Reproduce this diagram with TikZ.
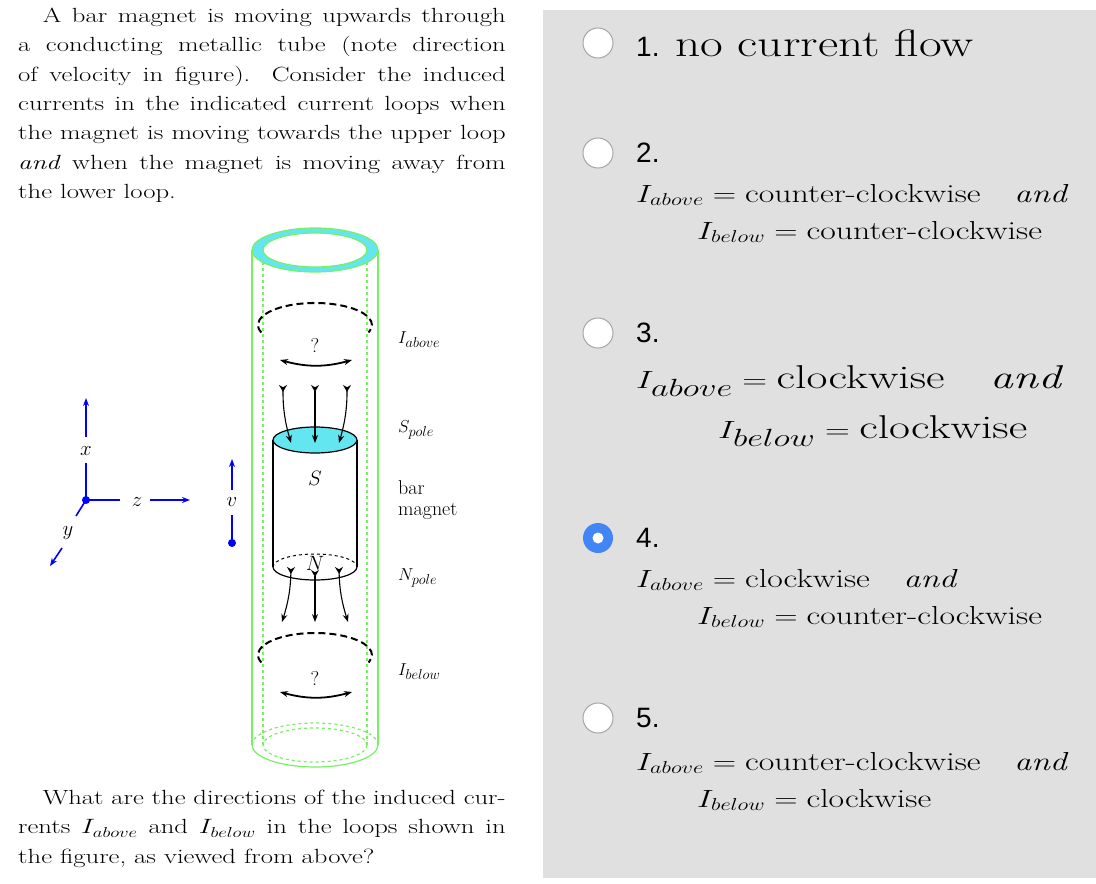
\documentclass[tikz,border=0pt]{standalone}
\usepackage{fontspec}
\newfontfamily\sfn{Liberation Sans}
\usetikzlibrary{arrows.meta}
\definecolor{panel}{RGB}{224,224,224}
\definecolor{tubeg}{RGB}{120,240,100}
\definecolor{cyanm}{RGB}{100,230,240}
\definecolor{radio}{RGB}{66,133,244}
\newcommand{\hs}[1]{\scalebox{1.3}[1]{#1}}
\newcommand{\hb}[1]{\scalebox{1.38}[1]{#1}}
\begin{document}
\begin{tikzpicture}[x=1pt,y=-1pt,
  txt/.style={inner sep=0,anchor=north west},
  lbl/.style={inner sep=0,anchor=west,font=\fontsize{19}{20}\selectfont},
  ax/.style={blue,line width=1.6pt,-{Stealth[length=8pt,width=6pt]}},
  tube/.style={tubeg,line width=1.2pt},
  loopd/.style={line width=2pt,dash pattern=on 7pt off 4pt},
  fld/.style={line width=1.1pt,{Stealth[reversed,length=7pt,width=8pt]}-{Stealth[length=8pt,width=6pt]}},
  opt/.style={inner sep=0,anchor=west,font=\sfn\fontsize{28}{30}\selectfont},
  mth/.style={inner sep=0,font=\fontsize{26}{28}\selectfont},
  mthb/.style={inner sep=0,font=\fontsize{33}{35}\selectfont},
  sym/.style={inner sep=0,font=\fontsize{20}{22}\selectfont},
  rad/.style={draw=gray!70,fill=white,line width=1pt}]
\useasboundingbox (0,0) rectangle (1096,884);
\fill[white] (0,0) rectangle (1096,884);
% left text
\node[txt] (t1) at (18,8) {\scalebox{1.3}[1]{\parbox[t]{375pt}{\fontsize{20.5}{29.3}\selectfont\hspace*{19pt}A bar magnet is moving upwards through\linebreak a conducting metallic tube (note direction\linebreak of velocity in figure). Consider the induced currents in the indicated current loops when the magnet is moving towards the upper loop \emph{and} when the magnet is moving away from the lower loop.}}};
\node[txt] (t2) at (18,790) {\scalebox{1.3}[1]{\parbox[t]{375pt}{\fontsize{20.5}{29.3}\selectfont\hspace*{19pt}What are the directions of the induced currents $I_{above}$ and $I_{below}$ in the loops shown in the figure, as viewed from above?}}};
% tube
\draw[tube] (252,250) -- (252,745) (378,250) -- (378,745);
\draw[tube,dashed] (263,250) -- (263,745) (367,250) -- (367,745);
\fill[cyanm,even odd rule] (315,250) ellipse[x radius=63,y radius=22] (315,250) ellipse[x radius=52,y radius=17];
\draw[tube] (315,250) ellipse[x radius=63,y radius=22] (315,250) ellipse[x radius=52,y radius=17];
\draw[tube] (378,745) arc[start angle=0,end angle=180,x radius=63,y radius=22];
\draw[tube,dashed] (252,745) arc[start angle=180,end angle=360,x radius=63,y radius=22];
\draw[tube,dashed] (315,745) ellipse[x radius=52,y radius=17];
% loops
\draw[loopd] (261.4,332.5) arc[start angle=160,end angle=380,x radius=57,y radius=22];
\node[sym] (q1) at (315,345) {?};
\draw[line width=1.8pt,{Stealth[length=8pt]}-{Stealth[length=8pt]}] (280,360) to[bend right=15] (352,360);
\draw[loopd] (261.4,662.5) arc[start angle=160,end angle=380,x radius=57,y radius=22];
\node[sym] (q2) at (315,678) {?};
\draw[line width=1.8pt,{Stealth[length=8pt]}-{Stealth[length=8pt]}] (280,692) to[bend right=15] (352,692);
% magnet
\draw[line width=1.2pt] (273,440) -- (273,567) (357,440) -- (357,567);
\draw[fill=cyanm,line width=1.2pt] (315,440) ellipse[x radius=42,y radius=13];
\draw[line width=1.2pt] (357,567) arc[start angle=0,end angle=180,x radius=42,y radius=13];
\draw[line width=1pt,dashed] (273,567) arc[start angle=180,end angle=360,x radius=42,y radius=13];
\node[sym] (S) at (315,478) {$S$};
\node[sym] (N) at (315,563) {$N$};
\draw[fld] (283,385) to[bend right=8] (291,443);
\draw[fld] (315,385) -- (315,443);
\draw[fld] (347,385) to[bend left=8] (339,443);
\draw[fld] (291,567) to[bend left=8] (282,622);
\draw[fld] (315,570) -- (315,622);
\draw[fld] (339,567) to[bend right=8] (348,622);
% labels
\node[lbl] (la) at (398,340) {$I_{above}$};
\node[lbl] (ls) at (398,430) {$S_{pole}$};
\node[lbl,align=left,font=\fontsize{20}{21}\selectfont] (lb) at (398,500) {bar\\magnet};
\node[lbl] (ln) at (398,578) {$N_{pole}$};
\node[lbl] (lw) at (398,672) {$I_{below}$};
% axes
\coordinate (O) at (86,500);
\fill[blue] (O) circle (4);
\draw[blue,line width=1.6pt] (O) -- (86,463);
\node[sym] (xl) at (86,451) {$x$};
\draw[ax] (86,437) -- (86,398);
\draw[blue,line width=1.6pt] (O) -- (120,500);
\node[sym] (zl) at (137,502) {$z$};
\draw[ax] (150,500) -- (190,500);
\draw[blue,line width=1.6pt] (O) -- (76,516);
\node[sym] (yl) at (68,533) {$y$};
\draw[ax] (62,548) -- (50,566);
\fill[blue] (232,543) circle (4);
\draw[blue,line width=1.6pt] (232,543) -- (232,515);
\node[sym] (vl) at (232,502) {$v$};
\draw[ax] (232,490) -- (232,459);
% right panel
\fill[panel] (543,10) rectangle (1096,878);
\draw[rad] (598,43) circle (15);
\node[opt] (o1) at (636,43) {1.\ \ \rmfamily\fontsize{38}{40}\selectfont\hs{no current flow}};
\draw[rad] (598,153) circle (15);
\node[opt] (o2) at (636,153) {2.};
\node[mth,anchor=west] (o2a) at (636,195) {\hs{$I_{above}=\textrm{counter-clockwise}\quad\textit{and}$}};
\node[mth,anchor=west] (o2b) at (697,232) {\hs{$I_{below}=\textrm{counter-clockwise}$}};
\draw[rad] (598,333) circle (15);
\node[opt] (o3) at (636,333) {3.};
\node[mthb,anchor=west] (o3a) at (636,381) {\hb{$I_{above}=\textrm{clockwise}\quad\textit{and}$}};
\node[mthb,anchor=west] (o3b) at (718,431) {\hb{$I_{below}=\textrm{clockwise}$}};
\fill[radio] (598,538) circle (15);
\fill[white] (598,538) circle (5.5);
\node[opt] (o4) at (636,538) {4.};
\node[mth,anchor=west] (o4a) at (636,580) {\hs{$I_{above}=\textrm{clockwise}\quad\textit{and}$}};
\node[mth,anchor=west] (o4b) at (697,617) {\hs{$I_{below}=\textrm{counter-clockwise}$}};
\draw[rad] (598,718) circle (15);
\node[opt] (o5) at (636,718) {5.};
\node[mth,anchor=west] (o5a) at (636,763) {\hs{$I_{above}=\textrm{counter-clockwise}\quad\textit{and}$}};
\node[mth,anchor=west] (o5b) at (697,800) {\hs{$I_{below}=\textrm{clockwise}$}};
\end{tikzpicture}
\end{document}
